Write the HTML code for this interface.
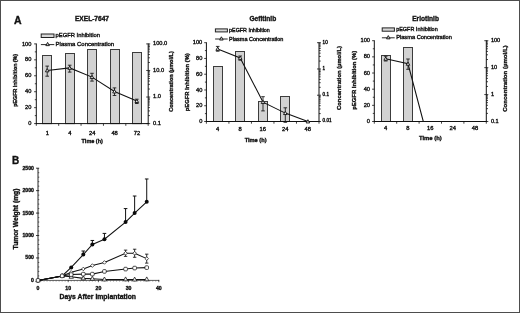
<!DOCTYPE html>
<html lang="en"><head><meta charset="utf-8"><title>Figure</title>
<style>html,body{margin:0;padding:0;background:#fff}body{width:520px;height:313px;overflow:hidden}svg{display:block}</style>
</head><body>
<svg width="520" height="313" viewBox="0 0 520 313" font-family='"Liberation Sans", Arial, sans-serif'>
<rect x="0" y="0" width="520" height="313" fill="#fff"/>
<rect x="42.50" y="55.50" width="9" height="68.10" fill="#d2d2d2" stroke="#3c3c3c" stroke-width="1"/>
<rect x="65.50" y="53.50" width="9" height="70.10" fill="#d2d2d2" stroke="#3c3c3c" stroke-width="1"/>
<rect x="87.50" y="49.50" width="9" height="74.10" fill="#d2d2d2" stroke="#3c3c3c" stroke-width="1"/>
<rect x="110.50" y="49.50" width="9" height="74.10" fill="#d2d2d2" stroke="#3c3c3c" stroke-width="1"/>
<rect x="132.50" y="52.50" width="9" height="71.10" fill="#d2d2d2" stroke="#3c3c3c" stroke-width="1"/>
<line x1="36.30" y1="43.50" x2="36.30" y2="124.00" stroke="#111" stroke-width="1.0"/>
<line x1="148.20" y1="43.50" x2="148.20" y2="124.00" stroke="#111" stroke-width="1.0"/>
<line x1="35.90" y1="123.60" x2="148.60" y2="123.60" stroke="#111" stroke-width="1.0"/>
<line x1="34.10" y1="123.60" x2="36.30" y2="123.60" stroke="#111" stroke-width="0.8"/>
<text x="31.40" y="125.20" font-size="5.7" text-anchor="end" fill="#111" stroke="#111" stroke-width="0.36">0</text>
<line x1="34.80" y1="115.63" x2="36.30" y2="115.63" stroke="#111" stroke-width="0.8"/>
<line x1="34.10" y1="107.66" x2="36.30" y2="107.66" stroke="#111" stroke-width="0.8"/>
<text x="31.40" y="109.26" font-size="5.7" text-anchor="end" fill="#111" stroke="#111" stroke-width="0.36">20</text>
<line x1="34.80" y1="99.69" x2="36.30" y2="99.69" stroke="#111" stroke-width="0.8"/>
<line x1="34.10" y1="91.72" x2="36.30" y2="91.72" stroke="#111" stroke-width="0.8"/>
<text x="31.40" y="93.32" font-size="5.7" text-anchor="end" fill="#111" stroke="#111" stroke-width="0.36">40</text>
<line x1="34.80" y1="83.75" x2="36.30" y2="83.75" stroke="#111" stroke-width="0.8"/>
<line x1="34.10" y1="75.78" x2="36.30" y2="75.78" stroke="#111" stroke-width="0.8"/>
<text x="31.40" y="77.38" font-size="5.7" text-anchor="end" fill="#111" stroke="#111" stroke-width="0.36">60</text>
<line x1="34.80" y1="67.81" x2="36.30" y2="67.81" stroke="#111" stroke-width="0.8"/>
<line x1="34.10" y1="59.84" x2="36.30" y2="59.84" stroke="#111" stroke-width="0.8"/>
<text x="31.40" y="61.44" font-size="5.7" text-anchor="end" fill="#111" stroke="#111" stroke-width="0.36">80</text>
<line x1="34.80" y1="51.87" x2="36.30" y2="51.87" stroke="#111" stroke-width="0.8"/>
<line x1="34.10" y1="43.90" x2="36.30" y2="43.90" stroke="#111" stroke-width="0.8"/>
<text x="31.40" y="45.50" font-size="5.7" text-anchor="end" fill="#111" stroke="#111" stroke-width="0.36">100</text>
<line x1="146.20" y1="123.60" x2="150.20" y2="123.60" stroke="#111" stroke-width="0.8"/>
<text x="153.00" y="124.80" font-size="5.7" text-anchor="start" fill="#111" stroke="#111" stroke-width="0.36">0.1</text>
<line x1="148.20" y1="115.60" x2="149.90" y2="115.60" stroke="#111" stroke-width="0.8"/>
<line x1="148.20" y1="110.92" x2="149.90" y2="110.92" stroke="#111" stroke-width="0.8"/>
<line x1="148.20" y1="107.61" x2="149.90" y2="107.61" stroke="#111" stroke-width="0.8"/>
<line x1="148.20" y1="105.03" x2="149.90" y2="105.03" stroke="#111" stroke-width="0.8"/>
<line x1="148.20" y1="102.93" x2="149.90" y2="102.93" stroke="#111" stroke-width="0.8"/>
<line x1="148.20" y1="101.15" x2="149.90" y2="101.15" stroke="#111" stroke-width="0.8"/>
<line x1="148.20" y1="99.61" x2="149.90" y2="99.61" stroke="#111" stroke-width="0.8"/>
<line x1="148.20" y1="98.25" x2="149.90" y2="98.25" stroke="#111" stroke-width="0.8"/>
<line x1="146.20" y1="97.03" x2="150.20" y2="97.03" stroke="#111" stroke-width="0.8"/>
<text x="153.00" y="98.23" font-size="5.7" text-anchor="start" fill="#111" stroke="#111" stroke-width="0.36">1.0</text>
<line x1="148.20" y1="89.04" x2="149.90" y2="89.04" stroke="#111" stroke-width="0.8"/>
<line x1="148.20" y1="84.36" x2="149.90" y2="84.36" stroke="#111" stroke-width="0.8"/>
<line x1="148.20" y1="81.04" x2="149.90" y2="81.04" stroke="#111" stroke-width="0.8"/>
<line x1="148.20" y1="78.46" x2="149.90" y2="78.46" stroke="#111" stroke-width="0.8"/>
<line x1="148.20" y1="76.36" x2="149.90" y2="76.36" stroke="#111" stroke-width="0.8"/>
<line x1="148.20" y1="74.58" x2="149.90" y2="74.58" stroke="#111" stroke-width="0.8"/>
<line x1="148.20" y1="73.04" x2="149.90" y2="73.04" stroke="#111" stroke-width="0.8"/>
<line x1="148.20" y1="71.68" x2="149.90" y2="71.68" stroke="#111" stroke-width="0.8"/>
<line x1="146.20" y1="70.47" x2="150.20" y2="70.47" stroke="#111" stroke-width="0.8"/>
<text x="153.00" y="71.67" font-size="5.7" text-anchor="start" fill="#111" stroke="#111" stroke-width="0.36">10.0</text>
<line x1="148.20" y1="62.47" x2="149.90" y2="62.47" stroke="#111" stroke-width="0.8"/>
<line x1="148.20" y1="57.79" x2="149.90" y2="57.79" stroke="#111" stroke-width="0.8"/>
<line x1="148.20" y1="54.47" x2="149.90" y2="54.47" stroke="#111" stroke-width="0.8"/>
<line x1="148.20" y1="51.90" x2="149.90" y2="51.90" stroke="#111" stroke-width="0.8"/>
<line x1="148.20" y1="49.79" x2="149.90" y2="49.79" stroke="#111" stroke-width="0.8"/>
<line x1="148.20" y1="48.02" x2="149.90" y2="48.02" stroke="#111" stroke-width="0.8"/>
<line x1="148.20" y1="46.47" x2="149.90" y2="46.47" stroke="#111" stroke-width="0.8"/>
<line x1="148.20" y1="45.12" x2="149.90" y2="45.12" stroke="#111" stroke-width="0.8"/>
<line x1="146.20" y1="43.90" x2="150.20" y2="43.90" stroke="#111" stroke-width="0.8"/>
<text x="153.00" y="45.10" font-size="5.7" text-anchor="start" fill="#111" stroke="#111" stroke-width="0.36">100.0</text>
<line x1="36.30" y1="123.60" x2="36.30" y2="125.80" stroke="#111" stroke-width="0.8"/>
<line x1="58.68" y1="123.60" x2="58.68" y2="125.80" stroke="#111" stroke-width="0.8"/>
<line x1="81.06" y1="123.60" x2="81.06" y2="125.80" stroke="#111" stroke-width="0.8"/>
<line x1="103.44" y1="123.60" x2="103.44" y2="125.80" stroke="#111" stroke-width="0.8"/>
<line x1="125.82" y1="123.60" x2="125.82" y2="125.80" stroke="#111" stroke-width="0.8"/>
<line x1="148.20" y1="123.60" x2="148.20" y2="125.80" stroke="#111" stroke-width="0.8"/>
<text x="47.49" y="134.60" font-size="5.8" text-anchor="middle" fill="#111" stroke="#111" stroke-width="0.36">1</text>
<text x="69.87" y="134.60" font-size="5.8" text-anchor="middle" fill="#111" stroke="#111" stroke-width="0.36">4</text>
<text x="92.25" y="134.60" font-size="5.8" text-anchor="middle" fill="#111" stroke="#111" stroke-width="0.36">24</text>
<text x="114.63" y="134.60" font-size="5.8" text-anchor="middle" fill="#111" stroke="#111" stroke-width="0.36">48</text>
<text x="137.01" y="134.60" font-size="5.8" text-anchor="middle" fill="#111" stroke="#111" stroke-width="0.36">72</text>
<text x="92.25" y="143.10" font-size="5.5" text-anchor="middle" fill="#111" font-weight="bold" stroke="#111" stroke-width="0.34">Time (h)</text>
<path d="M47.20,70.40 L69.70,67.90 L92.00,77.10 L114.50,91.50 L136.80,101.10" fill="none" stroke="#111" stroke-width="1.05"/>
<line x1="47.20" y1="66.10" x2="47.20" y2="76.20" stroke="#111" stroke-width="0.85"/>
<line x1="45.40" y1="66.10" x2="49.00" y2="66.10" stroke="#111" stroke-width="0.85"/>
<line x1="45.40" y1="76.20" x2="49.00" y2="76.20" stroke="#111" stroke-width="0.85"/>
<line x1="69.70" y1="65.20" x2="69.70" y2="72.10" stroke="#111" stroke-width="0.85"/>
<line x1="67.90" y1="65.20" x2="71.50" y2="65.20" stroke="#111" stroke-width="0.85"/>
<line x1="67.90" y1="72.10" x2="71.50" y2="72.10" stroke="#111" stroke-width="0.85"/>
<line x1="92.00" y1="73.30" x2="92.00" y2="81.10" stroke="#111" stroke-width="0.85"/>
<line x1="90.20" y1="73.30" x2="93.80" y2="73.30" stroke="#111" stroke-width="0.85"/>
<line x1="90.20" y1="81.10" x2="93.80" y2="81.10" stroke="#111" stroke-width="0.85"/>
<line x1="114.50" y1="87.90" x2="114.50" y2="95.50" stroke="#111" stroke-width="0.85"/>
<line x1="112.70" y1="87.90" x2="116.30" y2="87.90" stroke="#111" stroke-width="0.85"/>
<line x1="112.70" y1="95.50" x2="116.30" y2="95.50" stroke="#111" stroke-width="0.85"/>
<line x1="136.80" y1="99.20" x2="136.80" y2="103.50" stroke="#111" stroke-width="0.85"/>
<line x1="135.00" y1="99.20" x2="138.60" y2="99.20" stroke="#111" stroke-width="0.85"/>
<line x1="135.00" y1="103.50" x2="138.60" y2="103.50" stroke="#111" stroke-width="0.85"/>
<polygon points="47.20,68.60 45.40,71.84 49.00,71.84" fill="#eee" stroke="#111" stroke-width="0.9"/>
<polygon points="69.70,66.10 67.90,69.34 71.50,69.34" fill="#eee" stroke="#111" stroke-width="0.9"/>
<polygon points="92.00,75.30 90.20,78.54 93.80,78.54" fill="#eee" stroke="#111" stroke-width="0.9"/>
<polygon points="114.50,89.70 112.70,92.94 116.30,92.94" fill="#eee" stroke="#111" stroke-width="0.9"/>
<polygon points="136.80,99.30 135.00,102.54 138.60,102.54" fill="#eee" stroke="#111" stroke-width="0.9"/>
<text x="92.00" y="20.90" font-size="6.6" text-anchor="middle" fill="#111" font-weight="bold" stroke="#111" stroke-width="0.34">EXEL-7647</text>
<rect x="41.20" y="34.00" width="12.80" height="3.50" fill="#d8d8d8" stroke="#222" stroke-width="1"/>
<text x="55.60" y="37.10" font-size="5.9" text-anchor="start" fill="#111" stroke="#111" stroke-width="0.36" textLength="44.30" lengthAdjust="spacingAndGlyphs">pEGFR Inhibition</text>
<line x1="40.90" y1="44.60" x2="54.30" y2="44.60" stroke="#111" stroke-width="0.9"/>
<polygon points="47.60,42.40 45.80,45.64 49.40,45.64" fill="#ccc" stroke="#111" stroke-width="0.9"/>
<text x="55.60" y="46.10" font-size="5.9" text-anchor="start" fill="#111" stroke="#111" stroke-width="0.36" textLength="58.50" lengthAdjust="spacingAndGlyphs">Plasma Concentration</text>
<text x="17.34" y="80.30" font-size="5.27" text-anchor="middle" fill="#111" font-weight="bold" stroke="#111" stroke-width="0.34" transform="rotate(-90 17.34 80.30)" textLength="52.70" lengthAdjust="spacingAndGlyphs">pEGFR Inhibition (%)</text>
<text x="173.42" y="81.50" font-size="5.52" text-anchor="middle" fill="#111" font-weight="bold" stroke="#111" stroke-width="0.34" transform="rotate(-90 173.42 81.50)" textLength="60.50" lengthAdjust="spacingAndGlyphs">Concentration (µmol/L)</text>
<rect x="213.50" y="66.50" width="9" height="55.00" fill="#d2d2d2" stroke="#3c3c3c" stroke-width="1"/>
<rect x="235.50" y="51.50" width="9" height="70.00" fill="#d2d2d2" stroke="#3c3c3c" stroke-width="1"/>
<rect x="258.50" y="101.50" width="9" height="20.00" fill="#d2d2d2" stroke="#3c3c3c" stroke-width="1"/>
<rect x="280.50" y="96.50" width="9" height="25.00" fill="#d2d2d2" stroke="#3c3c3c" stroke-width="1"/>
<line x1="206.40" y1="42.30" x2="206.40" y2="121.90" stroke="#111" stroke-width="1.0"/>
<line x1="319.00" y1="42.30" x2="319.00" y2="121.90" stroke="#111" stroke-width="1.0"/>
<line x1="206.00" y1="121.50" x2="319.40" y2="121.50" stroke="#111" stroke-width="1.0"/>
<line x1="204.20" y1="121.50" x2="206.40" y2="121.50" stroke="#111" stroke-width="0.8"/>
<text x="202.30" y="123.10" font-size="5.7" text-anchor="end" fill="#111" stroke="#111" stroke-width="0.36">0</text>
<line x1="204.90" y1="113.62" x2="206.40" y2="113.62" stroke="#111" stroke-width="0.8"/>
<line x1="204.20" y1="105.74" x2="206.40" y2="105.74" stroke="#111" stroke-width="0.8"/>
<text x="202.30" y="107.34" font-size="5.7" text-anchor="end" fill="#111" stroke="#111" stroke-width="0.36">20</text>
<line x1="204.90" y1="97.86" x2="206.40" y2="97.86" stroke="#111" stroke-width="0.8"/>
<line x1="204.20" y1="89.98" x2="206.40" y2="89.98" stroke="#111" stroke-width="0.8"/>
<text x="202.30" y="91.58" font-size="5.7" text-anchor="end" fill="#111" stroke="#111" stroke-width="0.36">40</text>
<line x1="204.90" y1="82.10" x2="206.40" y2="82.10" stroke="#111" stroke-width="0.8"/>
<line x1="204.20" y1="74.22" x2="206.40" y2="74.22" stroke="#111" stroke-width="0.8"/>
<text x="202.30" y="75.82" font-size="5.7" text-anchor="end" fill="#111" stroke="#111" stroke-width="0.36">60</text>
<line x1="204.90" y1="66.34" x2="206.40" y2="66.34" stroke="#111" stroke-width="0.8"/>
<line x1="204.20" y1="58.46" x2="206.40" y2="58.46" stroke="#111" stroke-width="0.8"/>
<text x="202.30" y="60.06" font-size="5.7" text-anchor="end" fill="#111" stroke="#111" stroke-width="0.36">80</text>
<line x1="204.90" y1="50.58" x2="206.40" y2="50.58" stroke="#111" stroke-width="0.8"/>
<line x1="204.20" y1="42.70" x2="206.40" y2="42.70" stroke="#111" stroke-width="0.8"/>
<text x="202.30" y="44.30" font-size="5.7" text-anchor="end" fill="#111" stroke="#111" stroke-width="0.36">100</text>
<line x1="317.00" y1="121.50" x2="321.00" y2="121.50" stroke="#111" stroke-width="0.8"/>
<text x="322.60" y="122.30" font-size="4.6" text-anchor="start" fill="#111" stroke="#111" stroke-width="0.36">0.01</text>
<line x1="319.00" y1="113.59" x2="320.70" y2="113.59" stroke="#111" stroke-width="0.8"/>
<line x1="319.00" y1="108.97" x2="320.70" y2="108.97" stroke="#111" stroke-width="0.8"/>
<line x1="319.00" y1="105.69" x2="320.70" y2="105.69" stroke="#111" stroke-width="0.8"/>
<line x1="319.00" y1="103.14" x2="320.70" y2="103.14" stroke="#111" stroke-width="0.8"/>
<line x1="319.00" y1="101.06" x2="320.70" y2="101.06" stroke="#111" stroke-width="0.8"/>
<line x1="319.00" y1="99.30" x2="320.70" y2="99.30" stroke="#111" stroke-width="0.8"/>
<line x1="319.00" y1="97.78" x2="320.70" y2="97.78" stroke="#111" stroke-width="0.8"/>
<line x1="319.00" y1="96.44" x2="320.70" y2="96.44" stroke="#111" stroke-width="0.8"/>
<line x1="317.00" y1="95.23" x2="321.00" y2="95.23" stroke="#111" stroke-width="0.8"/>
<text x="322.60" y="96.03" font-size="4.6" text-anchor="start" fill="#111" stroke="#111" stroke-width="0.36">0.1</text>
<line x1="319.00" y1="87.33" x2="320.70" y2="87.33" stroke="#111" stroke-width="0.8"/>
<line x1="319.00" y1="82.70" x2="320.70" y2="82.70" stroke="#111" stroke-width="0.8"/>
<line x1="319.00" y1="79.42" x2="320.70" y2="79.42" stroke="#111" stroke-width="0.8"/>
<line x1="319.00" y1="76.87" x2="320.70" y2="76.87" stroke="#111" stroke-width="0.8"/>
<line x1="319.00" y1="74.79" x2="320.70" y2="74.79" stroke="#111" stroke-width="0.8"/>
<line x1="319.00" y1="73.04" x2="320.70" y2="73.04" stroke="#111" stroke-width="0.8"/>
<line x1="319.00" y1="71.51" x2="320.70" y2="71.51" stroke="#111" stroke-width="0.8"/>
<line x1="319.00" y1="70.17" x2="320.70" y2="70.17" stroke="#111" stroke-width="0.8"/>
<line x1="317.00" y1="68.97" x2="321.00" y2="68.97" stroke="#111" stroke-width="0.8"/>
<text x="322.60" y="69.77" font-size="4.6" text-anchor="start" fill="#111" stroke="#111" stroke-width="0.36">1</text>
<line x1="319.00" y1="61.06" x2="320.70" y2="61.06" stroke="#111" stroke-width="0.8"/>
<line x1="319.00" y1="56.43" x2="320.70" y2="56.43" stroke="#111" stroke-width="0.8"/>
<line x1="319.00" y1="53.15" x2="320.70" y2="53.15" stroke="#111" stroke-width="0.8"/>
<line x1="319.00" y1="50.61" x2="320.70" y2="50.61" stroke="#111" stroke-width="0.8"/>
<line x1="319.00" y1="48.53" x2="320.70" y2="48.53" stroke="#111" stroke-width="0.8"/>
<line x1="319.00" y1="46.77" x2="320.70" y2="46.77" stroke="#111" stroke-width="0.8"/>
<line x1="319.00" y1="45.25" x2="320.70" y2="45.25" stroke="#111" stroke-width="0.8"/>
<line x1="319.00" y1="43.90" x2="320.70" y2="43.90" stroke="#111" stroke-width="0.8"/>
<line x1="317.00" y1="42.70" x2="321.00" y2="42.70" stroke="#111" stroke-width="0.8"/>
<text x="322.60" y="43.50" font-size="4.6" text-anchor="start" fill="#111" stroke="#111" stroke-width="0.36">10</text>
<line x1="206.40" y1="121.50" x2="206.40" y2="123.70" stroke="#111" stroke-width="0.8"/>
<line x1="228.92" y1="121.50" x2="228.92" y2="123.70" stroke="#111" stroke-width="0.8"/>
<line x1="251.44" y1="121.50" x2="251.44" y2="123.70" stroke="#111" stroke-width="0.8"/>
<line x1="273.96" y1="121.50" x2="273.96" y2="123.70" stroke="#111" stroke-width="0.8"/>
<line x1="296.48" y1="121.50" x2="296.48" y2="123.70" stroke="#111" stroke-width="0.8"/>
<line x1="319.00" y1="121.50" x2="319.00" y2="123.70" stroke="#111" stroke-width="0.8"/>
<text x="217.66" y="131.30" font-size="5.8" text-anchor="middle" fill="#111" stroke="#111" stroke-width="0.36">4</text>
<text x="240.18" y="131.30" font-size="5.8" text-anchor="middle" fill="#111" stroke="#111" stroke-width="0.36">8</text>
<text x="262.70" y="131.30" font-size="5.8" text-anchor="middle" fill="#111" stroke="#111" stroke-width="0.36">16</text>
<text x="285.22" y="131.30" font-size="5.8" text-anchor="middle" fill="#111" stroke="#111" stroke-width="0.36">24</text>
<text x="307.74" y="131.30" font-size="5.8" text-anchor="middle" fill="#111" stroke="#111" stroke-width="0.36">48</text>
<text x="255.60" y="142.30" font-size="5.66" text-anchor="middle" fill="#111" font-weight="bold" stroke="#111" stroke-width="0.34">Time (h)</text>
<path d="M217.70,48.90 L240.20,57.90 L263.00,102.10 L285.30,113.10 L307.90,121.50" fill="none" stroke="#111" stroke-width="1.05"/>
<line x1="217.70" y1="46.40" x2="217.70" y2="51.20" stroke="#111" stroke-width="0.85"/>
<line x1="215.90" y1="46.40" x2="219.50" y2="46.40" stroke="#111" stroke-width="0.85"/>
<line x1="215.90" y1="51.20" x2="219.50" y2="51.20" stroke="#111" stroke-width="0.85"/>
<line x1="240.20" y1="56.00" x2="240.20" y2="60.20" stroke="#111" stroke-width="0.85"/>
<line x1="238.40" y1="56.00" x2="242.00" y2="56.00" stroke="#111" stroke-width="0.85"/>
<line x1="238.40" y1="60.20" x2="242.00" y2="60.20" stroke="#111" stroke-width="0.85"/>
<line x1="263.00" y1="96.70" x2="263.00" y2="110.90" stroke="#111" stroke-width="0.85"/>
<line x1="261.20" y1="96.70" x2="264.80" y2="96.70" stroke="#111" stroke-width="0.85"/>
<line x1="261.20" y1="110.90" x2="264.80" y2="110.90" stroke="#111" stroke-width="0.85"/>
<line x1="285.30" y1="107.80" x2="285.30" y2="122.30" stroke="#111" stroke-width="0.85"/>
<line x1="283.50" y1="107.80" x2="287.10" y2="107.80" stroke="#111" stroke-width="0.85"/>
<line x1="283.50" y1="122.30" x2="287.10" y2="122.30" stroke="#111" stroke-width="0.85"/>
<polygon points="217.70,47.10 215.90,50.34 219.50,50.34" fill="#eee" stroke="#111" stroke-width="0.9"/>
<polygon points="240.20,56.10 238.40,59.34 242.00,59.34" fill="#eee" stroke="#111" stroke-width="0.9"/>
<polygon points="263.00,100.30 261.20,103.54 264.80,103.54" fill="#eee" stroke="#111" stroke-width="0.9"/>
<polygon points="285.30,111.30 283.50,114.54 287.10,114.54" fill="#eee" stroke="#111" stroke-width="0.9"/>
<polygon points="307.90,119.70 306.10,122.94 309.70,122.94" fill="#eee" stroke="#111" stroke-width="0.9"/>
<text x="262.80" y="21.00" font-size="6.6" text-anchor="middle" fill="#111" font-weight="bold" stroke="#111" stroke-width="0.34">Gefitinib</text>
<rect x="215.40" y="28.90" width="12.00" height="3.00" fill="#d8d8d8" stroke="#222" stroke-width="1"/>
<text x="229.10" y="31.90" font-size="5.4" text-anchor="start" fill="#111" stroke="#111" stroke-width="0.36" textLength="40.70" lengthAdjust="spacingAndGlyphs">pEGFR Inhibition</text>
<line x1="215.10" y1="39.00" x2="227.70" y2="39.00" stroke="#111" stroke-width="0.9"/>
<polygon points="221.40,36.80 219.60,40.04 223.20,40.04" fill="#ccc" stroke="#111" stroke-width="0.9"/>
<text x="229.10" y="40.60" font-size="5.4" text-anchor="start" fill="#111" stroke="#111" stroke-width="0.36" textLength="54.30" lengthAdjust="spacingAndGlyphs">Plasma Concentration</text>
<text x="188.81" y="82.20" font-size="5.8" text-anchor="middle" fill="#111" font-weight="bold" stroke="#111" stroke-width="0.34" transform="rotate(-90 188.81 82.20)" textLength="58.00" lengthAdjust="spacingAndGlyphs">pEGFR Inhibition (%)</text>
<text x="340.72" y="78.00" font-size="5.82" text-anchor="middle" fill="#111" font-weight="bold" stroke="#111" stroke-width="0.34" transform="rotate(-90 340.72 78.00)" textLength="63.80" lengthAdjust="spacingAndGlyphs">Concentration (µmol/L)</text>
<rect x="381.50" y="55.50" width="9" height="66.00" fill="#d2d2d2" stroke="#3c3c3c" stroke-width="1"/>
<rect x="403.50" y="47.50" width="9" height="74.00" fill="#d2d2d2" stroke="#3c3c3c" stroke-width="1"/>
<line x1="374.30" y1="40.30" x2="374.30" y2="121.90" stroke="#111" stroke-width="1.0"/>
<line x1="486.30" y1="40.30" x2="486.30" y2="121.90" stroke="#111" stroke-width="1.0"/>
<line x1="373.90" y1="121.50" x2="486.70" y2="121.50" stroke="#111" stroke-width="1.0"/>
<line x1="372.10" y1="121.50" x2="374.30" y2="121.50" stroke="#111" stroke-width="0.8"/>
<text x="370.00" y="123.10" font-size="5.7" text-anchor="end" fill="#111" stroke="#111" stroke-width="0.36">0</text>
<line x1="372.80" y1="113.42" x2="374.30" y2="113.42" stroke="#111" stroke-width="0.8"/>
<line x1="372.10" y1="105.34" x2="374.30" y2="105.34" stroke="#111" stroke-width="0.8"/>
<text x="370.00" y="106.94" font-size="5.7" text-anchor="end" fill="#111" stroke="#111" stroke-width="0.36">20</text>
<line x1="372.80" y1="97.26" x2="374.30" y2="97.26" stroke="#111" stroke-width="0.8"/>
<line x1="372.10" y1="89.18" x2="374.30" y2="89.18" stroke="#111" stroke-width="0.8"/>
<text x="370.00" y="90.78" font-size="5.7" text-anchor="end" fill="#111" stroke="#111" stroke-width="0.36">40</text>
<line x1="372.80" y1="81.10" x2="374.30" y2="81.10" stroke="#111" stroke-width="0.8"/>
<line x1="372.10" y1="73.02" x2="374.30" y2="73.02" stroke="#111" stroke-width="0.8"/>
<text x="370.00" y="74.62" font-size="5.7" text-anchor="end" fill="#111" stroke="#111" stroke-width="0.36">60</text>
<line x1="372.80" y1="64.94" x2="374.30" y2="64.94" stroke="#111" stroke-width="0.8"/>
<line x1="372.10" y1="56.86" x2="374.30" y2="56.86" stroke="#111" stroke-width="0.8"/>
<text x="370.00" y="58.46" font-size="5.7" text-anchor="end" fill="#111" stroke="#111" stroke-width="0.36">80</text>
<line x1="372.80" y1="48.78" x2="374.30" y2="48.78" stroke="#111" stroke-width="0.8"/>
<line x1="372.10" y1="40.70" x2="374.30" y2="40.70" stroke="#111" stroke-width="0.8"/>
<text x="370.00" y="42.30" font-size="5.7" text-anchor="end" fill="#111" stroke="#111" stroke-width="0.36">100</text>
<line x1="484.30" y1="121.50" x2="488.30" y2="121.50" stroke="#111" stroke-width="0.8"/>
<text x="490.90" y="123.10" font-size="5.6" text-anchor="start" fill="#111" stroke="#111" stroke-width="0.36">0.1</text>
<line x1="486.30" y1="113.39" x2="488.00" y2="113.39" stroke="#111" stroke-width="0.8"/>
<line x1="486.30" y1="108.65" x2="488.00" y2="108.65" stroke="#111" stroke-width="0.8"/>
<line x1="486.30" y1="105.28" x2="488.00" y2="105.28" stroke="#111" stroke-width="0.8"/>
<line x1="486.30" y1="102.67" x2="488.00" y2="102.67" stroke="#111" stroke-width="0.8"/>
<line x1="486.30" y1="100.54" x2="488.00" y2="100.54" stroke="#111" stroke-width="0.8"/>
<line x1="486.30" y1="98.74" x2="488.00" y2="98.74" stroke="#111" stroke-width="0.8"/>
<line x1="486.30" y1="97.18" x2="488.00" y2="97.18" stroke="#111" stroke-width="0.8"/>
<line x1="486.30" y1="95.80" x2="488.00" y2="95.80" stroke="#111" stroke-width="0.8"/>
<line x1="484.30" y1="94.57" x2="488.30" y2="94.57" stroke="#111" stroke-width="0.8"/>
<text x="490.90" y="96.17" font-size="5.6" text-anchor="start" fill="#111" stroke="#111" stroke-width="0.36">1</text>
<line x1="486.30" y1="86.46" x2="488.00" y2="86.46" stroke="#111" stroke-width="0.8"/>
<line x1="486.30" y1="81.72" x2="488.00" y2="81.72" stroke="#111" stroke-width="0.8"/>
<line x1="486.30" y1="78.35" x2="488.00" y2="78.35" stroke="#111" stroke-width="0.8"/>
<line x1="486.30" y1="75.74" x2="488.00" y2="75.74" stroke="#111" stroke-width="0.8"/>
<line x1="486.30" y1="73.61" x2="488.00" y2="73.61" stroke="#111" stroke-width="0.8"/>
<line x1="486.30" y1="71.81" x2="488.00" y2="71.81" stroke="#111" stroke-width="0.8"/>
<line x1="486.30" y1="70.24" x2="488.00" y2="70.24" stroke="#111" stroke-width="0.8"/>
<line x1="486.30" y1="68.87" x2="488.00" y2="68.87" stroke="#111" stroke-width="0.8"/>
<line x1="484.30" y1="67.63" x2="488.30" y2="67.63" stroke="#111" stroke-width="0.8"/>
<text x="490.90" y="69.23" font-size="5.6" text-anchor="start" fill="#111" stroke="#111" stroke-width="0.36">10</text>
<line x1="486.30" y1="59.53" x2="488.00" y2="59.53" stroke="#111" stroke-width="0.8"/>
<line x1="486.30" y1="54.78" x2="488.00" y2="54.78" stroke="#111" stroke-width="0.8"/>
<line x1="486.30" y1="51.42" x2="488.00" y2="51.42" stroke="#111" stroke-width="0.8"/>
<line x1="486.30" y1="48.81" x2="488.00" y2="48.81" stroke="#111" stroke-width="0.8"/>
<line x1="486.30" y1="46.68" x2="488.00" y2="46.68" stroke="#111" stroke-width="0.8"/>
<line x1="486.30" y1="44.87" x2="488.00" y2="44.87" stroke="#111" stroke-width="0.8"/>
<line x1="486.30" y1="43.31" x2="488.00" y2="43.31" stroke="#111" stroke-width="0.8"/>
<line x1="486.30" y1="41.93" x2="488.00" y2="41.93" stroke="#111" stroke-width="0.8"/>
<line x1="484.30" y1="40.70" x2="488.30" y2="40.70" stroke="#111" stroke-width="0.8"/>
<text x="490.90" y="42.30" font-size="5.6" text-anchor="start" fill="#111" stroke="#111" stroke-width="0.36">100</text>
<line x1="374.30" y1="121.50" x2="374.30" y2="123.70" stroke="#111" stroke-width="0.8"/>
<line x1="396.70" y1="121.50" x2="396.70" y2="123.70" stroke="#111" stroke-width="0.8"/>
<line x1="419.10" y1="121.50" x2="419.10" y2="123.70" stroke="#111" stroke-width="0.8"/>
<line x1="441.50" y1="121.50" x2="441.50" y2="123.70" stroke="#111" stroke-width="0.8"/>
<line x1="463.90" y1="121.50" x2="463.90" y2="123.70" stroke="#111" stroke-width="0.8"/>
<line x1="486.30" y1="121.50" x2="486.30" y2="123.70" stroke="#111" stroke-width="0.8"/>
<text x="385.50" y="130.00" font-size="5.8" text-anchor="middle" fill="#111" stroke="#111" stroke-width="0.36">4</text>
<text x="407.90" y="130.00" font-size="5.8" text-anchor="middle" fill="#111" stroke="#111" stroke-width="0.36">8</text>
<text x="430.30" y="130.00" font-size="5.8" text-anchor="middle" fill="#111" stroke="#111" stroke-width="0.36">16</text>
<text x="452.70" y="130.00" font-size="5.8" text-anchor="middle" fill="#111" stroke="#111" stroke-width="0.36">24</text>
<text x="475.10" y="130.00" font-size="5.8" text-anchor="middle" fill="#111" stroke="#111" stroke-width="0.36">48</text>
<text x="430.30" y="139.80" font-size="5.9" text-anchor="middle" fill="#111" font-weight="bold" stroke="#111" stroke-width="0.34">Time (h)</text>
<path d="M385.70,58.80 L408.00,63.80 L423.30,121.50" fill="none" stroke="#111" stroke-width="1.05"/>
<line x1="385.70" y1="56.20" x2="385.70" y2="61.00" stroke="#111" stroke-width="0.85"/>
<line x1="383.90" y1="56.20" x2="387.50" y2="56.20" stroke="#111" stroke-width="0.85"/>
<line x1="383.90" y1="61.00" x2="387.50" y2="61.00" stroke="#111" stroke-width="0.85"/>
<line x1="408.00" y1="59.00" x2="408.00" y2="69.30" stroke="#111" stroke-width="0.85"/>
<line x1="406.20" y1="59.00" x2="409.80" y2="59.00" stroke="#111" stroke-width="0.85"/>
<line x1="406.20" y1="69.30" x2="409.80" y2="69.30" stroke="#111" stroke-width="0.85"/>
<polygon points="385.70,57.00 383.90,60.24 387.50,60.24" fill="#eee" stroke="#111" stroke-width="0.9"/>
<polygon points="408.00,62.00 406.20,65.24 409.80,65.24" fill="#eee" stroke="#111" stroke-width="0.9"/>
<text x="425.60" y="20.50" font-size="6.6" text-anchor="middle" fill="#111" font-weight="bold" stroke="#111" stroke-width="0.34">Erlotinib</text>
<rect x="382.20" y="27.90" width="12.20" height="3.30" fill="#d8d8d8" stroke="#222" stroke-width="1"/>
<text x="396.20" y="31.10" font-size="5.55" text-anchor="start" fill="#111" stroke="#111" stroke-width="0.36" textLength="41.50" lengthAdjust="spacingAndGlyphs">pEGFR Inhibition</text>
<line x1="381.90" y1="37.80" x2="394.70" y2="37.80" stroke="#111" stroke-width="0.9"/>
<polygon points="388.30,35.60 386.50,38.84 390.10,38.84" fill="#ccc" stroke="#111" stroke-width="0.9"/>
<text x="396.20" y="39.20" font-size="5.55" text-anchor="start" fill="#111" stroke="#111" stroke-width="0.36" textLength="55.70" lengthAdjust="spacingAndGlyphs">Plasma Concentration</text>
<text x="356.25" y="80.30" font-size="5.9" text-anchor="middle" fill="#111" font-weight="bold" stroke="#111" stroke-width="0.34" transform="rotate(-90 356.25 80.30)" textLength="59.00" lengthAdjust="spacingAndGlyphs">pEGFR Inhibition (%)</text>
<text x="507.30" y="78.60" font-size="6.06" text-anchor="middle" fill="#111" font-weight="bold" stroke="#111" stroke-width="0.34" transform="rotate(-90 507.30 78.60)" textLength="66.50" lengthAdjust="spacingAndGlyphs">Concentration (µmol/L)</text>
<text x="13.90" y="23.50" font-size="10.5" text-anchor="start" fill="#111" font-weight="bold" stroke="#111" stroke-width="0.34">A</text>
<text x="11.90" y="164.20" font-size="10" text-anchor="start" fill="#111" font-weight="bold" stroke="#111" stroke-width="0.34">B</text>
<line x1="38.00" y1="168.00" x2="38.00" y2="280.80" stroke="#111" stroke-width="0.9"/>
<line x1="37.60" y1="280.40" x2="159.20" y2="280.40" stroke="#333" stroke-width="0.8"/>
<line x1="36.00" y1="280.40" x2="39.20" y2="280.40" stroke="#111" stroke-width="0.8"/>
<text x="34.00" y="281.90" font-size="5.2" text-anchor="end" fill="#111" font-weight="bold" stroke="#111" stroke-width="0.34">0</text>
<line x1="38.00" y1="275.91" x2="39.30" y2="275.91" stroke="#111" stroke-width="0.6"/>
<line x1="38.00" y1="271.42" x2="39.30" y2="271.42" stroke="#111" stroke-width="0.6"/>
<line x1="38.00" y1="266.94" x2="39.30" y2="266.94" stroke="#111" stroke-width="0.6"/>
<line x1="38.00" y1="262.45" x2="39.30" y2="262.45" stroke="#111" stroke-width="0.6"/>
<line x1="36.00" y1="257.96" x2="39.20" y2="257.96" stroke="#111" stroke-width="0.8"/>
<text x="34.00" y="259.46" font-size="5.2" text-anchor="end" fill="#111" font-weight="bold" stroke="#111" stroke-width="0.34">500</text>
<line x1="38.00" y1="253.47" x2="39.30" y2="253.47" stroke="#111" stroke-width="0.6"/>
<line x1="38.00" y1="248.98" x2="39.30" y2="248.98" stroke="#111" stroke-width="0.6"/>
<line x1="38.00" y1="244.50" x2="39.30" y2="244.50" stroke="#111" stroke-width="0.6"/>
<line x1="38.00" y1="240.01" x2="39.30" y2="240.01" stroke="#111" stroke-width="0.6"/>
<line x1="36.00" y1="235.52" x2="39.20" y2="235.52" stroke="#111" stroke-width="0.8"/>
<text x="34.00" y="237.02" font-size="5.2" text-anchor="end" fill="#111" font-weight="bold" stroke="#111" stroke-width="0.34">1000</text>
<line x1="38.00" y1="231.03" x2="39.30" y2="231.03" stroke="#111" stroke-width="0.6"/>
<line x1="38.00" y1="226.54" x2="39.30" y2="226.54" stroke="#111" stroke-width="0.6"/>
<line x1="38.00" y1="222.06" x2="39.30" y2="222.06" stroke="#111" stroke-width="0.6"/>
<line x1="38.00" y1="217.57" x2="39.30" y2="217.57" stroke="#111" stroke-width="0.6"/>
<line x1="36.00" y1="213.08" x2="39.20" y2="213.08" stroke="#111" stroke-width="0.8"/>
<text x="34.00" y="214.58" font-size="5.2" text-anchor="end" fill="#111" font-weight="bold" stroke="#111" stroke-width="0.34">1500</text>
<line x1="38.00" y1="208.59" x2="39.30" y2="208.59" stroke="#111" stroke-width="0.6"/>
<line x1="38.00" y1="204.10" x2="39.30" y2="204.10" stroke="#111" stroke-width="0.6"/>
<line x1="38.00" y1="199.62" x2="39.30" y2="199.62" stroke="#111" stroke-width="0.6"/>
<line x1="38.00" y1="195.13" x2="39.30" y2="195.13" stroke="#111" stroke-width="0.6"/>
<line x1="36.00" y1="190.64" x2="39.20" y2="190.64" stroke="#111" stroke-width="0.8"/>
<text x="34.00" y="192.14" font-size="5.2" text-anchor="end" fill="#111" font-weight="bold" stroke="#111" stroke-width="0.34">2000</text>
<line x1="38.00" y1="186.15" x2="39.30" y2="186.15" stroke="#111" stroke-width="0.6"/>
<line x1="38.00" y1="181.66" x2="39.30" y2="181.66" stroke="#111" stroke-width="0.6"/>
<line x1="38.00" y1="177.18" x2="39.30" y2="177.18" stroke="#111" stroke-width="0.6"/>
<line x1="38.00" y1="172.69" x2="39.30" y2="172.69" stroke="#111" stroke-width="0.6"/>
<line x1="36.00" y1="168.20" x2="39.20" y2="168.20" stroke="#111" stroke-width="0.8"/>
<text x="34.00" y="169.70" font-size="5.2" text-anchor="end" fill="#111" font-weight="bold" stroke="#111" stroke-width="0.34">2500</text>
<line x1="38.00" y1="279.90" x2="38.00" y2="282.20" stroke="#111" stroke-width="0.7"/>
<text x="38.00" y="290.00" font-size="5.2" text-anchor="middle" fill="#111" font-weight="bold" stroke="#111" stroke-width="0.34">0</text>
<line x1="41.02" y1="280.40" x2="41.02" y2="281.60" stroke="#444" stroke-width="0.5"/>
<line x1="44.04" y1="280.40" x2="44.04" y2="281.60" stroke="#444" stroke-width="0.5"/>
<line x1="47.06" y1="280.40" x2="47.06" y2="281.60" stroke="#444" stroke-width="0.5"/>
<line x1="50.08" y1="280.40" x2="50.08" y2="281.60" stroke="#444" stroke-width="0.5"/>
<line x1="53.10" y1="280.40" x2="53.10" y2="281.60" stroke="#444" stroke-width="0.5"/>
<line x1="56.12" y1="280.40" x2="56.12" y2="281.60" stroke="#444" stroke-width="0.5"/>
<line x1="59.14" y1="280.40" x2="59.14" y2="281.60" stroke="#444" stroke-width="0.5"/>
<line x1="62.16" y1="280.40" x2="62.16" y2="281.60" stroke="#444" stroke-width="0.5"/>
<line x1="65.18" y1="280.40" x2="65.18" y2="281.60" stroke="#444" stroke-width="0.5"/>
<line x1="68.20" y1="279.90" x2="68.20" y2="282.20" stroke="#111" stroke-width="0.7"/>
<text x="68.20" y="290.00" font-size="5.2" text-anchor="middle" fill="#111" font-weight="bold" stroke="#111" stroke-width="0.34">10</text>
<line x1="71.22" y1="280.40" x2="71.22" y2="281.60" stroke="#444" stroke-width="0.5"/>
<line x1="74.24" y1="280.40" x2="74.24" y2="281.60" stroke="#444" stroke-width="0.5"/>
<line x1="77.26" y1="280.40" x2="77.26" y2="281.60" stroke="#444" stroke-width="0.5"/>
<line x1="80.28" y1="280.40" x2="80.28" y2="281.60" stroke="#444" stroke-width="0.5"/>
<line x1="83.30" y1="280.40" x2="83.30" y2="281.60" stroke="#444" stroke-width="0.5"/>
<line x1="86.32" y1="280.40" x2="86.32" y2="281.60" stroke="#444" stroke-width="0.5"/>
<line x1="89.34" y1="280.40" x2="89.34" y2="281.60" stroke="#444" stroke-width="0.5"/>
<line x1="92.36" y1="280.40" x2="92.36" y2="281.60" stroke="#444" stroke-width="0.5"/>
<line x1="95.38" y1="280.40" x2="95.38" y2="281.60" stroke="#444" stroke-width="0.5"/>
<line x1="98.40" y1="279.90" x2="98.40" y2="282.20" stroke="#111" stroke-width="0.7"/>
<text x="98.40" y="290.00" font-size="5.2" text-anchor="middle" fill="#111" font-weight="bold" stroke="#111" stroke-width="0.34">20</text>
<line x1="101.42" y1="280.40" x2="101.42" y2="281.60" stroke="#444" stroke-width="0.5"/>
<line x1="104.44" y1="280.40" x2="104.44" y2="281.60" stroke="#444" stroke-width="0.5"/>
<line x1="107.46" y1="280.40" x2="107.46" y2="281.60" stroke="#444" stroke-width="0.5"/>
<line x1="110.48" y1="280.40" x2="110.48" y2="281.60" stroke="#444" stroke-width="0.5"/>
<line x1="113.50" y1="280.40" x2="113.50" y2="281.60" stroke="#444" stroke-width="0.5"/>
<line x1="116.52" y1="280.40" x2="116.52" y2="281.60" stroke="#444" stroke-width="0.5"/>
<line x1="119.54" y1="280.40" x2="119.54" y2="281.60" stroke="#444" stroke-width="0.5"/>
<line x1="122.56" y1="280.40" x2="122.56" y2="281.60" stroke="#444" stroke-width="0.5"/>
<line x1="125.58" y1="280.40" x2="125.58" y2="281.60" stroke="#444" stroke-width="0.5"/>
<line x1="128.60" y1="279.90" x2="128.60" y2="282.20" stroke="#111" stroke-width="0.7"/>
<text x="128.60" y="290.00" font-size="5.2" text-anchor="middle" fill="#111" font-weight="bold" stroke="#111" stroke-width="0.34">30</text>
<line x1="131.62" y1="280.40" x2="131.62" y2="281.60" stroke="#444" stroke-width="0.5"/>
<line x1="134.64" y1="280.40" x2="134.64" y2="281.60" stroke="#444" stroke-width="0.5"/>
<line x1="137.66" y1="280.40" x2="137.66" y2="281.60" stroke="#444" stroke-width="0.5"/>
<line x1="140.68" y1="280.40" x2="140.68" y2="281.60" stroke="#444" stroke-width="0.5"/>
<line x1="143.70" y1="280.40" x2="143.70" y2="281.60" stroke="#444" stroke-width="0.5"/>
<line x1="146.72" y1="280.40" x2="146.72" y2="281.60" stroke="#444" stroke-width="0.5"/>
<line x1="149.74" y1="280.40" x2="149.74" y2="281.60" stroke="#444" stroke-width="0.5"/>
<line x1="152.76" y1="280.40" x2="152.76" y2="281.60" stroke="#444" stroke-width="0.5"/>
<line x1="155.78" y1="280.40" x2="155.78" y2="281.60" stroke="#444" stroke-width="0.5"/>
<line x1="158.80" y1="279.90" x2="158.80" y2="282.20" stroke="#111" stroke-width="0.7"/>
<text x="158.80" y="290.00" font-size="5.2" text-anchor="middle" fill="#111" font-weight="bold" stroke="#111" stroke-width="0.34">40</text>
<text x="97.80" y="299.10" font-size="6.8" text-anchor="middle" fill="#111" font-weight="bold" stroke="#111" stroke-width="0.34" textLength="76.40" lengthAdjust="spacingAndGlyphs">Days After Implantation</text>
<text x="17.98" y="219.00" font-size="6.6" text-anchor="middle" fill="#111" font-weight="bold" stroke="#111" stroke-width="0.34" transform="rotate(-90 17.98 219.00)" textLength="60.90" lengthAdjust="spacingAndGlyphs">Tumor Weight (mg)</text>
<path d="M38.00,280.40 L62.16,275.91 L71.22,276.81 L83.30,278.38 L92.36,278.83 L104.44,279.50 L125.58,279.41 L134.64,279.59 L146.72,279.41" fill="none" stroke="#111" stroke-width="1.05"/>
<path d="M38.00,280.40 L62.16,275.91 L71.22,274.57 L83.30,274.12 L92.36,274.12 L104.44,271.42 L125.58,269.09 L134.64,268.06 L146.72,267.61" fill="none" stroke="#111" stroke-width="1.05"/>
<path d="M38.00,280.40 L62.16,275.91 L71.22,272.32 L83.30,268.96 L92.36,265.59 L104.44,262.45 L125.58,253.25 L134.64,253.25 L146.72,258.63" fill="none" stroke="#111" stroke-width="1.05"/>
<path d="M38.00,280.40 L62.16,275.91 L71.22,267.38 L83.30,254.59 L92.36,244.50 L104.44,239.25 L125.58,222.06 L134.64,213.08 L146.72,201.86" fill="none" stroke="#111" stroke-width="1.05"/>
<line x1="83.30" y1="254.59" x2="83.30" y2="251.00" stroke="#111" stroke-width="1.0"/>
<line x1="81.50" y1="251.00" x2="85.10" y2="251.00" stroke="#111" stroke-width="1.0"/>
<line x1="92.36" y1="244.50" x2="92.36" y2="240.46" stroke="#111" stroke-width="1.0"/>
<line x1="90.56" y1="240.46" x2="94.16" y2="240.46" stroke="#111" stroke-width="1.0"/>
<line x1="104.44" y1="239.25" x2="104.44" y2="233.41" stroke="#111" stroke-width="1.0"/>
<line x1="102.64" y1="233.41" x2="106.24" y2="233.41" stroke="#111" stroke-width="1.0"/>
<line x1="125.58" y1="222.06" x2="125.58" y2="208.59" stroke="#111" stroke-width="1.0"/>
<line x1="123.78" y1="208.59" x2="127.38" y2="208.59" stroke="#111" stroke-width="1.0"/>
<line x1="134.64" y1="213.08" x2="134.64" y2="196.03" stroke="#111" stroke-width="1.0"/>
<line x1="132.84" y1="196.03" x2="136.44" y2="196.03" stroke="#111" stroke-width="1.0"/>
<line x1="146.72" y1="201.86" x2="146.72" y2="178.97" stroke="#111" stroke-width="1.0"/>
<line x1="144.92" y1="178.97" x2="148.52" y2="178.97" stroke="#111" stroke-width="1.0"/>
<line x1="125.58" y1="250.11" x2="125.58" y2="256.39" stroke="#111" stroke-width="0.85"/>
<line x1="123.88" y1="250.11" x2="127.28" y2="250.11" stroke="#111" stroke-width="0.85"/>
<line x1="123.88" y1="256.39" x2="127.28" y2="256.39" stroke="#111" stroke-width="0.85"/>
<line x1="134.64" y1="249.21" x2="134.64" y2="257.29" stroke="#111" stroke-width="0.85"/>
<line x1="132.94" y1="249.21" x2="136.34" y2="249.21" stroke="#111" stroke-width="0.85"/>
<line x1="132.94" y1="257.29" x2="136.34" y2="257.29" stroke="#111" stroke-width="0.85"/>
<line x1="146.72" y1="254.15" x2="146.72" y2="263.12" stroke="#111" stroke-width="0.85"/>
<line x1="145.02" y1="254.15" x2="148.42" y2="254.15" stroke="#111" stroke-width="0.85"/>
<line x1="145.02" y1="263.12" x2="148.42" y2="263.12" stroke="#111" stroke-width="0.85"/>
<circle cx="38.00" cy="280.40" r="2.0" fill="#0a0a0a"/>
<circle cx="62.16" cy="275.91" r="2.0" fill="#0a0a0a"/>
<circle cx="71.22" cy="267.38" r="2.0" fill="#0a0a0a"/>
<circle cx="83.30" cy="254.59" r="2.0" fill="#0a0a0a"/>
<circle cx="92.36" cy="244.50" r="2.0" fill="#0a0a0a"/>
<circle cx="104.44" cy="239.25" r="2.0" fill="#0a0a0a"/>
<circle cx="125.58" cy="222.06" r="2.0" fill="#0a0a0a"/>
<circle cx="134.64" cy="213.08" r="2.0" fill="#0a0a0a"/>
<circle cx="146.72" cy="201.86" r="2.0" fill="#0a0a0a"/>
<polygon points="38.00,278.60 39.80,280.40 38.00,282.20 36.20,280.40" fill="#fff" stroke="#111" stroke-width="0.7"/>
<polygon points="62.16,274.11 63.96,275.91 62.16,277.71 60.36,275.91" fill="#fff" stroke="#111" stroke-width="0.7"/>
<polygon points="71.22,270.52 73.02,272.32 71.22,274.12 69.42,272.32" fill="#fff" stroke="#111" stroke-width="0.7"/>
<polygon points="83.30,267.16 85.10,268.96 83.30,270.76 81.50,268.96" fill="#fff" stroke="#111" stroke-width="0.7"/>
<polygon points="92.36,263.79 94.16,265.59 92.36,267.39 90.56,265.59" fill="#fff" stroke="#111" stroke-width="0.7"/>
<polygon points="104.44,260.65 106.24,262.45 104.44,264.25 102.64,262.45" fill="#fff" stroke="#111" stroke-width="0.7"/>
<polygon points="125.58,251.45 127.38,253.25 125.58,255.05 123.78,253.25" fill="#fff" stroke="#111" stroke-width="0.7"/>
<polygon points="134.64,251.45 136.44,253.25 134.64,255.05 132.84,253.25" fill="#fff" stroke="#111" stroke-width="0.7"/>
<polygon points="146.72,256.83 148.52,258.63 146.72,260.43 144.92,258.63" fill="#fff" stroke="#111" stroke-width="0.7"/>
<polygon points="38.00,277.90 35.80,281.86 40.20,281.86" fill="#eee" stroke="#111" stroke-width="0.75"/>
<polygon points="62.16,273.41 59.96,277.37 64.36,277.37" fill="#eee" stroke="#111" stroke-width="0.75"/>
<polygon points="71.22,274.31 69.02,278.27 73.42,278.27" fill="#eee" stroke="#111" stroke-width="0.75"/>
<polygon points="83.30,275.88 81.10,279.84 85.50,279.84" fill="#eee" stroke="#111" stroke-width="0.75"/>
<polygon points="92.36,276.33 90.16,280.29 94.56,280.29" fill="#eee" stroke="#111" stroke-width="0.75"/>
<polygon points="104.44,277.00 102.24,280.96 106.64,280.96" fill="#eee" stroke="#111" stroke-width="0.75"/>
<polygon points="125.58,276.91 123.38,280.87 127.78,280.87" fill="#eee" stroke="#111" stroke-width="0.75"/>
<polygon points="134.64,277.09 132.44,281.05 136.84,281.05" fill="#eee" stroke="#111" stroke-width="0.75"/>
<polygon points="146.72,276.91 144.52,280.87 148.92,280.87" fill="#eee" stroke="#111" stroke-width="0.75"/>
<rect x="36.20" y="278.60" width="3.6" height="3.6" rx="1" fill="#fff" stroke="#111" stroke-width="0.75"/>
<rect x="60.36" y="274.11" width="3.6" height="3.6" rx="1" fill="#fff" stroke="#111" stroke-width="0.75"/>
<rect x="69.42" y="272.77" width="3.6" height="3.6" rx="1" fill="#fff" stroke="#111" stroke-width="0.75"/>
<rect x="81.50" y="272.32" width="3.6" height="3.6" rx="1" fill="#fff" stroke="#111" stroke-width="0.75"/>
<rect x="90.56" y="272.32" width="3.6" height="3.6" rx="1" fill="#fff" stroke="#111" stroke-width="0.75"/>
<rect x="102.64" y="269.62" width="3.6" height="3.6" rx="1" fill="#fff" stroke="#111" stroke-width="0.75"/>
<rect x="123.78" y="267.29" width="3.6" height="3.6" rx="1" fill="#fff" stroke="#111" stroke-width="0.75"/>
<rect x="132.84" y="266.26" width="3.6" height="3.6" rx="1" fill="#fff" stroke="#111" stroke-width="0.75"/>
<rect x="144.92" y="265.81" width="3.6" height="3.6" rx="1" fill="#fff" stroke="#111" stroke-width="0.75"/>
<rect x="0.5" y="0.5" width="519" height="312" fill="none" stroke="#4d4d4d" stroke-width="1"/>
</svg>
</body></html>
